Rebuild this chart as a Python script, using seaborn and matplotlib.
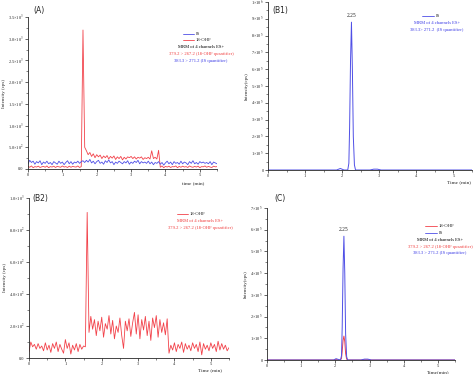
import numpy as np
import pandas as pd
import matplotlib
matplotlib.use("Agg")
import matplotlib.pyplot as plt
import seaborn as sns
from matplotlib.ticker import FixedLocator, MultipleLocator

sns.set_style("ticks")
plt.rcParams['font.family'] = ['Liberation Serif', 'DejaVu Serif']
plt.rcParams['mathtext.fontset'] = 'stix'

RED = "#f2424a"
BLUE = "#4f4fe6"
TRED = "#f03a3a"
TBLUE = "#3a3ae6"

STEP = 0.05  # sampling interval (min)

# ---------- Panel A data (cps) ----------
a_red = [60,40,70,30,55,45,65,35,50,60,40,70,30,55,45,65,35,60,50,40,70,45,55,35,65,40,60,50,45,70,35,55,
         3200,500,420,330,380,290,350,260,330,280,320,240,300,260,310,230,290,250,300,220,280,240,290,210,270,
         230,280,260,290,240,280,230,270,250,280,220,260,240,270,230,420,240,270,230,430,
         40,70,30,60,45,65,35,55,50,70,30,60,40,65,45,55,35,70,50,40,60,45,65,30,55,50,70,40,60,45,35,65,50,55]
a_blue = [120,200,150,180,110,170,140,190,100,160,130,180,120,150,100,170,140,110,180,130,160,100,150,190,120,170,110,160,140,180,130,170,
          190,150,200,160,220,140,180,120,170,200,130,160,110,190,150,210,140,170,100,160,130,180,150,120,170,140,190,110,160,130,180,150,200,120,170,140,160,130,180,
          120,160,100,150,130,170,110,150,90,140,180,120,160,100,170,130,150,110,180,120,160,140,100,170,130,190,120,150,110,170,140,160,130,
          150,120,170,100,160,140,120]
a_yticks = [0, 500, 1000, 1500, 2000, 2500, 3000, 3500]
a_ylabels = ["0.0", "5.0×10$^2$", "1.0×10$^3$", "1.5×10$^3$", "2.0×10$^3$", "2.5×10$^3$", "3.0×10$^3$", "3.5×10$^3$"]

# ---------- Panel B2 data (cps) ----------
b2_red = [40,100,70,85,55,90,60,75,45,95,50,80,35,90,60,100,40,85,55,30,115,60,95,25,80,50,90,40,85,55,75,70,
          910,160,260,180,240,140,230,170,255,130,215,180,265,150,235,120,200,160,250,140,60,230,170,245,135,220,285,150,270,
          120,240,175,260,140,230,110,250,190,265,130,240,160,220,145,245,
          30,80,50,95,40,85,60,100,35,90,55,80,45,95,60,85,40,100,20,90,55,80,45,95,60,85,40,105,50,90,55,80,45,65]
b2_yticks = [0, 200, 400, 600, 800, 1000]
b2_ylabels = ["0.0", "2.0×10$^2$", "4.0×10$^2$", "6.0×10$^2$", "8.0×10$^2$", "1.0×10$^3$"]

# ---------- Panel B1 data ----------
b1_t = [0, 1.85, 1.95, 2.05, 2.15, 2.18, 2.2, 2.225, 2.25, 2.275, 2.3, 2.33, 2.36, 2.45, 2.75, 2.85, 2.95, 3.05, 5.5]
b1_is = [0, 0, 9000, 0, 0, 40000, 250000, 650000, 880000, 600000, 200000, 30000, 0, 0, 0, 5000, 5000, 0, 0]
b1_yticks = [0, 1e5, 2e5, 3e5, 4e5, 5e5, 6e5, 7e5, 8e5, 9e5, 1e6]
b1_ylabels = ["0"] + [f"{i}×10$^5$" for i in range(1, 10)] + ["1×10$^6$"]

# ---------- Panel C data ----------
c_t = [0, 1.95, 2.02, 2.1, 2.15, 2.18, 2.2, 2.225, 2.25, 2.275, 2.3, 2.33, 2.36, 2.45, 2.75, 2.85, 2.95, 3.05, 5.5]
c_is = [0, 0, 6000, 2000, 0, 20000, 150000, 420000, 570000, 400000, 120000, 15000, 0, 0, 0, 4000, 4000, 0, 0]
c_ohf = [0, 0, 2000, 0, 0, 8000, 40000, 90000, 110000, 85000, 30000, 4000, 0, 0, 0, 1000, 1000, 0, 0]
c_yticks = [0, 1e5, 2e5, 3e5, 4e5, 5e5, 6e5, 7e5]
c_ylabels = ["0"] + [f"{i}×10$^5$" for i in range(1, 8)]

xticks = [0, 1, 2, 3, 4, 5]

fig = plt.figure(figsize=(4.74, 3.74), dpi=100)
W, H = 474, 374

def make_ax(l, r, t, b):
    return fig.add_axes([l / W, 1 - b / H, (r - l) / W, (b - t) / H])

def style(ax, yticks, ylabels, ymax, ylabel, xlabel, xlabel_pos):
    sns.despine(ax=ax)
    ax.set_xlim(0, 5.5)
    ax.set_ylim(0, ymax)
    ax.set_xticks(xticks)
    ax.set_xticklabels([str(v) for v in xticks])
    ax.xaxis.set_minor_locator(MultipleLocator(0.5))
    ax.yaxis.set_major_locator(FixedLocator(yticks))
    ax.set_yticklabels(ylabels)
    mids = [(yticks[i] + yticks[i + 1]) / 2 for i in range(len(yticks) - 1)]
    ax.yaxis.set_minor_locator(FixedLocator(mids))
    ax.tick_params(axis='both', which='major', labelsize=3.2, length=2, width=0.5, pad=1.2)
    ax.tick_params(axis='both', which='minor', length=1.2, width=0.4)
    for s in ax.spines.values():
        s.set_linewidth(0.6)
    ax.set_ylabel(ylabel, fontsize=3.6, labelpad=1.5)
    ax.set_xlabel("")
    fig.text(xlabel_pos[0] / W, 1 - xlabel_pos[1] / H, xlabel, fontsize=3.8, ha='center', va='center')

def trace(ax, t, y, color, lw=0.6):
    df = pd.DataFrame({"t": t, "y": y})
    sns.lineplot(data=df, x="t", y="y", ax=ax, color=color, lw=lw, estimator=None, sort=False)

def legend_line(x0, x1, y, color, label):
    fig.add_artist(plt.Line2D([x0 / W, x1 / W], [1 - y / H, 1 - y / H], color=color, lw=0.6))
    fig.text((x1 + 2) / W, 1 - y / H, label, fontsize=3.4, ha='left', va='center')

def ftext(x, y, s, color, size=3.3):
    fig.text(x / W, 1 - y / H, s, fontsize=size, ha='center', va='center', color=color)

# Panel A
axA = make_ax(28, 217, 17, 169)
tA = np.arange(len(a_red)) * STEP
tAb = np.arange(len(a_blue)) * STEP
trace(axA, tA, a_red, RED)
trace(axA, tAb, a_blue, BLUE)
style(axA, a_yticks, a_ylabels, 3500, "Intensity (cps)", "time (min)", (193, 183))
fig.text(33 / W, 1 - 10 / H, "(A)", fontsize=5.5, family='DejaVu Sans', va='center')
legend_line(183, 194, 34, BLUE, "IS")
legend_line(183, 194, 40, RED, "18-OHF")
ftext(201, 47, "MRM of 4 channels ES+", "black")
ftext(201, 54, "379.2 > 267.2 (18-OHF quantifier)", TRED)
ftext(201, 61, "383.3 > 271.2 (IS quantifier)", TBLUE)

# Panel B1
axB1 = make_ax(268, 472, 2, 170)
trace(axB1, b1_t, b1_is, BLUE, lw=0.7)
style(axB1, b1_yticks, b1_ylabels, 1e6, "Intensity(cps)", "Time (min)", (459, 182))
axB1.text(2.25, 905000, "2.25", fontsize=4, ha='center', va='bottom')
fig.text(272 / W, 1 - 10 / H, "(B1)", fontsize=5.5, family='DejaVu Sans', va='center')
legend_line(422, 434, 16, BLUE, "IS")
ftext(437, 23, "MRM of 4 channels ES+", TBLUE)
ftext(437, 30, "383.3> 271.2  (IS quantifier)", TBLUE)

# Panel B2
axB2 = make_ax(29, 229, 198, 358)
tB2 = np.arange(len(b2_red)) * STEP
trace(axB2, tB2, b2_red, RED)
style(axB2, b2_yticks, b2_ylabels, 1000, "Intensity (cps)", "Time (min)", (210, 370))
fig.text(32 / W, 1 - 199 / H, "(B2)", fontsize=5.5, family='DejaVu Sans', va='center')
legend_line(177, 188, 214, RED, "18-OHF")
ftext(200, 221, "MRM of 4 channels ES+", TRED)
ftext(200, 228, "379.2 > 267.2 (18-OHF quantifier)", TRED)

# Panel C
axC = make_ax(267, 455, 208, 360)
trace(axC, c_t, c_ohf, RED, lw=0.7)
trace(axC, c_t, c_is, BLUE, lw=0.7)
style(axC, c_yticks, c_ylabels, 7e5, "Intensity(cps)", "Time(min)", (438, 372))
axC.text(2.25, 590000, "2.25", fontsize=4, ha='center', va='bottom')
fig.text(274 / W, 1 - 199 / H, "(C)", fontsize=5.5, family='DejaVu Sans', va='center')
legend_line(425, 437, 226, RED, "18-OHF")
legend_line(425, 437, 233, BLUE, "IS")
ftext(440, 240, "MRM of 4 channels ES+", "black")
ftext(440, 247, "379.2 > 267.2 (18-OHF quantifier)", TRED)
ftext(440, 253, "383.3 > 271.2 (IS quantifier)", TBLUE)

fig.savefig("out.png", dpi=100)
